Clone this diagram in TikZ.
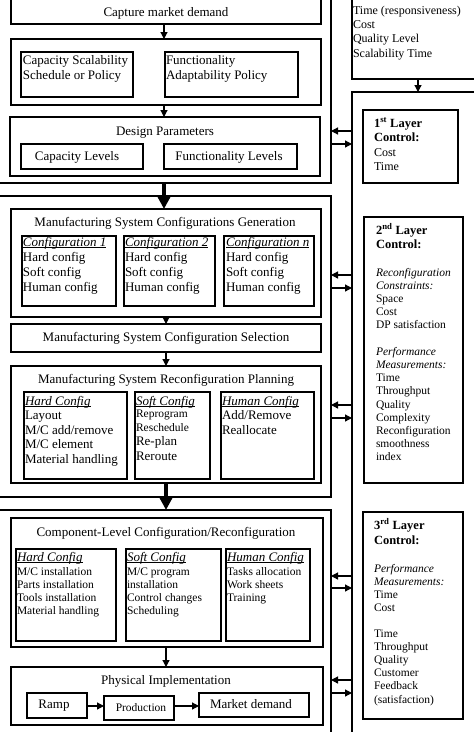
\documentclass[tikz,border=0pt]{standalone}
\usepackage{fontspec}
\setmainfont{Liberation Serif}
\usetikzlibrary{arrows.meta,fit}
\tikzset{
 grp/.style={draw, line width=1.6pt, inner sep=0pt, outer sep=0pt},
 bx/.style={draw, line width=1.4pt, inner sep=0pt, outer sep=0pt},
 ibx/.style={draw, line width=1.3pt, inner sep=0pt, outer sep=0pt},
 tx/.style={anchor=west, inner sep=0pt, outer sep=0pt, text height=9pt, text depth=3pt},
 ar/.style={line width=1.2pt, -{Triangle[length=7pt,width=7pt]}},
 bigar/.style={line width=4pt, -{Triangle[length=13pt,width=13pt]}},
 fA/.style={font=\fontsize{13}{15}\selectfont},
 fB/.style={font=\fontsize{12}{14.4}\selectfont},
 fC/.style={font=\fontsize{11.5}{13.3}\selectfont},
 fH/.style={font=\fontsize{12.5}{14.5}\selectfont\bfseries},
}
\newcommand\uln[1]{\setbox0\hbox{#1}\rlap{\rule[-1.8pt]{\wd0}{0.6pt}}\box0}
\newcommand\bxn[6][bx]{\node[#1, fit={(#3,#4) (#5,#6)}] (#2) {};}
\newcommand\txtlines[6]{\foreach \ltxt [count=\i from 0] in {#6}{\node[tx,#2] (#1\i) at (#3,{#4+\i*#5}) {\ltxt};}}
\begin{document}
\begin{tikzpicture}[x=1pt,y=-1pt]
\useasboundingbox (0,0) rectangle (474,732);
\clip (0,0) rectangle (474,732);
% ---------- group 1
\bxn[grp]{g1}{-10}{-10}{331}{183}
\bxn{cap}{11}{-10}{321}{24}
\bxn{pol}{11}{39}{321}{105}
\bxn[ibx]{polA}{21}{52}{133}{97}
\bxn[ibx]{polB}{165}{52}{298}{97}
\bxn{dp}{10}{117}{320}{176}
\bxn[ibx]{dpA}{21}{144}{143}{169}
\bxn[ibx]{dpB}{164}{144}{297}{169}
% ---------- group 2
\bxn[grp]{g2}{-10}{196}{331}{497}
\bxn{gen}{11}{209}{321}{317}
\bxn[ibx]{c1}{22}{236}{116}{306}
\bxn[ibx]{c2}{124}{236}{215}{306}
\bxn[ibx]{c3}{224}{236}{314}{306}
\bxn{sel}{11}{324}{321}{352}
\bxn{plan}{11}{366}{321}{483}
\bxn[ibx]{ph}{24}{392}{127}{479}
\bxn[ibx]{ps}{135}{392}{210}{479}
\bxn[ibx]{pu}{221}{392}{314}{479}
% ---------- group 3
\bxn[grp]{g3}{-10}{510}{331}{745}
\bxn{comp}{11}{518}{323}{647}
\bxn[ibx]{ch}{16}{549}{116}{641}
\bxn[ibx]{cs}{126}{549}{221}{641}
\bxn[ibx]{cu}{226}{549}{310}{641}
\bxn{phys}{11}{667}{323}{725}
\bxn[ibx]{ramp}{27}{693}{87}{718}
\bxn[ibx]{prod}{104}{696}{174}{720}
\bxn[ibx]{mkt}{199}{693}{309}{717}
% ---------- right column
\bxn{tr}{352}{-10}{485}{79}
\bxn[grp]{rb}{352}{92}{485}{745}
\bxn{l1}{363}{110}{458}{183}
\bxn{l2}{364}{217}{463}{483}
\bxn{l3}{363}{512}{463}{719}
% ---------- texts group 1
\node[tx,fA,anchor=center] (tcap) at (166,13) {Capture market demand};
\txtlines{pa}{fA}{23}{61}{15}{Capacity Scalability, Schedule or Policy}
\txtlines{pb}{fA}{166}{61}{15}{Functionality, Adaptability Policy}
\node[tx,fA,anchor=center] (tdp) at (165,132) {Design Parameters};
\node[tx,fA,anchor=center] (tdpa) at (77,157) {Capacity Levels};
\node[tx,fA,anchor=center] (tdpb) at (229,157) {Functionality Levels};
% ---------- texts group 2
\node[tx,fA,anchor=center] (tgen) at (165,223) {Manufacturing System Configurations Generation};
\txtlines{ca}{fA}{23}{243}{15}{{\uln{\textit{Configuration 1}}}, Hard config, Soft config, Human config}
\txtlines{cb}{fA}{125}{243}{15}{{\uln{\textit{Configuration 2}}}, Hard config, Soft config, Human config}
\txtlines{cc}{fA}{226}{243}{15}{{\uln{\textit{Configuration n}}}, Hard config, Soft config, Human config}
\node[tx,fA,anchor=center] (tsel) at (166,338) {Manufacturing System Configuration Selection};
\node[tx,fA,anchor=center] (tplan) at (166,380) {Manufacturing System Reconfiguration Planning};
\txtlines{pha}{fA}{25}{402}{14.5}{{\uln{\textit{Hard Config}}}, Layout, M/C add/remove, M/C element, Material handling}
\node[tx,fA] (psa) at (136,402) {\uln{\textit{Soft Config}}};
\node[tx,fC] (psb) at (136,414) {Reprogram};
\node[tx,fC] (psc) at (136,428) {Reschedule};
\node[tx,fA] (psd) at (136,442) {Re-plan};
\node[tx,fA] (pse) at (136,457) {Reroute};
\txtlines{pua}{fA}{222}{402}{14.5}{{\uln{\textit{Human Config}}}, Add/Remove, Reallocate}
% ---------- texts group 3
\node[tx,fA,anchor=center] (tcomp) at (166,533) {Component-Level Configuration/Reconfiguration};
\node[tx,fA] (chh) at (17,558) {\uln{\textit{Hard Config}}};
\txtlines{chl}{fC}{17}{572}{13.3}{M/C installation, Parts installation, Tools installation, Material handling}
\node[tx,fA] (csh) at (127,558) {\uln{\textit{Soft Config}}};
\txtlines{csl}{fC}{127}{572}{13.3}{M/C program, installation, Control changes, Scheduling}
\node[tx,fA] (cuh) at (227,558) {\uln{\textit{Human Config}}};
\txtlines{cul}{fC}{227}{572}{13.3}{Tasks allocation, Work sheets, Training}
\node[tx,fA,anchor=center] (tphys) at (166,681) {Physical Implementation};
\node[tx,fA,anchor=center] (tramp) at (54,705) {Ramp};
\node[tx,fC,anchor=center] (tprod) at (141,708) {Production};
\node[tx,fA,anchor=center] (tmkt) at (251,705) {Market demand};
% ---------- texts right column
\txtlines{trl}{fB}{353}{11}{14.4}{Time (responsiveness), Cost, Quality Level, Scalability Time}
\node[tx,fH] (l1a) at (374,124) {1\textsuperscript{st} Layer};
\node[tx,fH] (l1b) at (374,138.6) {Control:};
\txtlines{l1c}{fB}{374}{153.2}{14.6}{Cost, Time}
\node[tx,fH] (l2a) at (376,231) {2\textsuperscript{nd} Layer};
\node[tx,fH] (l2b) at (376,245) {Control:};
\txtlines{l2c}{fC}{376}{273}{13.2}{\textit{Reconfiguration}, \textit{Constraints:}, Space, Cost, DP satisfaction}
\txtlines{l2d}{fC}{376}{352.2}{13.2}{\textit{Performance}, \textit{Measurements:}, Time, Throughput, Quality, Complexity, Reconfiguration, smoothness, index}
\node[tx,fH] (l3a) at (374,526) {3\textsuperscript{rd} Layer};
\node[tx,fH] (l3b) at (374,541) {Control:};
\txtlines{l3c}{fC}{374}{569}{13.1}{\textit{Performance}, \textit{Measurements:}, Time, Cost}
\txtlines{l3d}{fC}{374}{634.5}{13.1}{Time, Throughput, Quality, Customer, Feedback, (satisfaction)}
% ---------- connectors
\coordinate (mxa) at (164,0);
\coordinate (mxb) at (166,0);
\coordinate (mxr) at (418,0);
\draw[ar] (cap.south -| mxa) -- (pol.north -| mxa);
\draw[ar] (pol.south -| mxa) -- (dp.north -| mxa);
\draw[bigar] (g1.south -| mxa) -- (gen.north -| mxa);
\draw[ar] (gen.south -| mxb) -- (sel.north -| mxb);
\draw[ar] (sel.south -| mxb) -- (plan.north -| mxb);
\draw[bigar] (plan.south -| mxb) -- (g3.north -| mxb);
\draw[ar] (comp.south -| mxb) -- (phys.north -| mxb);
\coordinate (ry) at (0,706);
\draw[ar] (ramp.east |- ry) -- (prod.west |- ry);
\draw[ar] (prod.east |- ry) -- (mkt.west |- ry);
\draw[ar] (tr.south -| mxr) -- (rb.north -| mxr);
\foreach \ya/\yb/\gg in {131/144/g1, 275/288/g2, 405/418/g2, 576/588/g3, 680/693/g3}{
  \coordinate (pa\ya) at (0,\ya);
  \coordinate (pb\yb) at (0,\yb);
  \draw[ar] (rb.west |- pa\ya) -- (\gg.east |- pa\ya);
  \draw[ar] (\gg.east |- pb\yb) -- (rb.west |- pb\yb);
}
\end{tikzpicture}
\end{document}
